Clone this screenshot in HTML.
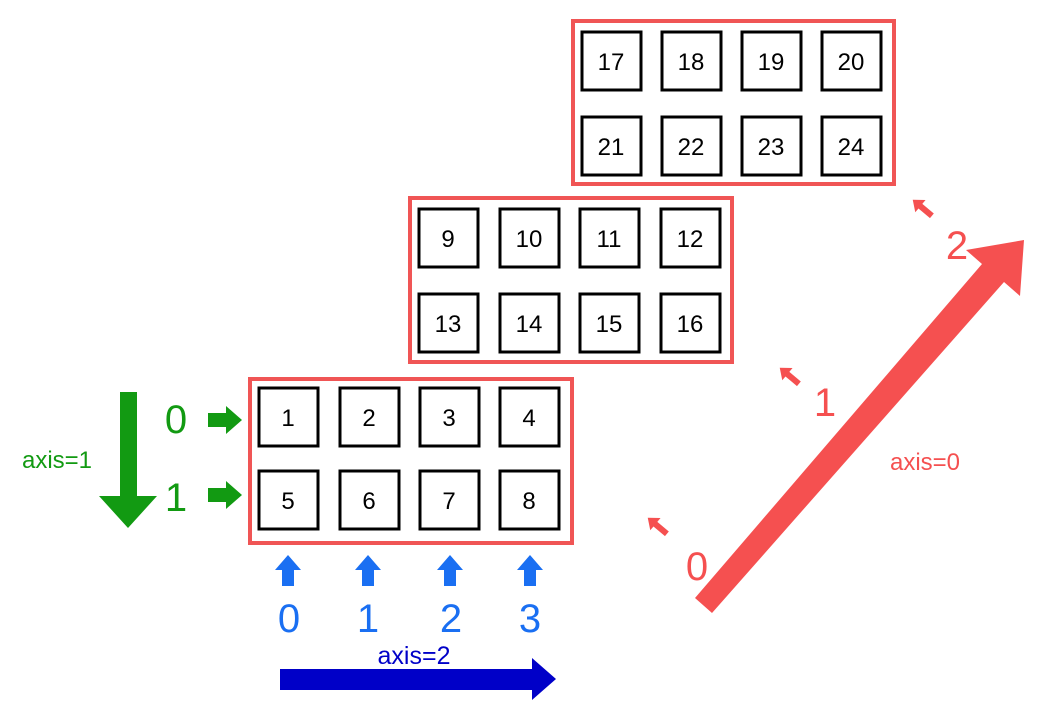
<!DOCTYPE html>
<html><head><meta charset="utf-8"><style>
body{margin:0;background:#fff;}
svg text{font-family:"Liberation Sans",sans-serif;}
</style></head><body>
<svg width="1039" height="705" viewBox="0 0 1039 705" xmlns="http://www.w3.org/2000/svg">
<g fill="none" stroke="#f05555" stroke-width="4">
<rect x="250" y="379" width="322" height="164"/>
<rect x="410" y="198" width="322" height="164"/>
<rect x="573" y="21" width="321" height="163"/>
</g>
<g fill="#fff" stroke="#000" stroke-width="3">
<rect x="259" y="388" width="59" height="58"/><rect x="340" y="388" width="59" height="58"/><rect x="420" y="388" width="59" height="58"/><rect x="500" y="388" width="59" height="58"/>
<rect x="259" y="471" width="59" height="58"/><rect x="340" y="471" width="59" height="58"/><rect x="420" y="471" width="59" height="58"/><rect x="500" y="471" width="59" height="58"/>
<rect x="419" y="209" width="59" height="58"/><rect x="500" y="209" width="59" height="58"/><rect x="580" y="209" width="59" height="58"/><rect x="661" y="209" width="59" height="58"/>
<rect x="419" y="294" width="59" height="58"/><rect x="500" y="294" width="59" height="58"/><rect x="580" y="294" width="59" height="58"/><rect x="661" y="294" width="59" height="58"/>
<rect x="582" y="32" width="59" height="58"/><rect x="662" y="32" width="59" height="58"/><rect x="742" y="32" width="59" height="58"/><rect x="822" y="32" width="59" height="58"/>
<rect x="582" y="117" width="59" height="58"/><rect x="662" y="117" width="59" height="58"/><rect x="742" y="117" width="59" height="58"/><rect x="822" y="117" width="59" height="58"/>
</g>
<g font-size="24" text-anchor="middle" fill="#000">
<text x="288" y="426">1</text><text x="369" y="426">2</text><text x="449" y="426">3</text><text x="529" y="426">4</text>
<text x="288" y="509">5</text><text x="369" y="509">6</text><text x="449" y="509">7</text><text x="529" y="509">8</text>
<text x="448" y="247">9</text><text x="529" y="247">10</text><text x="609" y="247">11</text><text x="690" y="247">12</text>
<text x="448" y="332">13</text><text x="529" y="332">14</text><text x="609" y="332">15</text><text x="690" y="332">16</text>
<text x="611" y="70">17</text><text x="691" y="70">18</text><text x="771" y="70">19</text><text x="851" y="70">20</text>
<text x="611" y="155">21</text><text x="691" y="155">22</text><text x="771" y="155">23</text><text x="851" y="155">24</text>
</g>
<!-- green -->
<g fill="#129a12">
<polygon points="120,392 137,392 137,496 157,496 128,528 99,496 120,496"/>
<polygon points="208,413 226,413 226,406 242,420 226,434 226,427 208,427"/>
<polygon points="208,488 226,488 226,481 242,495 226,509 226,502 208,502"/>
<text x="176" y="433" font-size="40" text-anchor="middle">0</text>
<text x="176" y="511" font-size="40" text-anchor="middle">1</text>
<text x="57" y="468" font-size="24" text-anchor="middle">axis=1</text>
</g>
<!-- blue -->
<g fill="#1a6ff2">
<polygon points="282,586 282,570 275,570 288,555 301,570 294,570 294,586"/>
<polygon points="362,586 362,570 355,570 368,555 381,570 374,570 374,586"/>
<polygon points="444,586 444,570 437,570 450,555 463,570 456,570 456,586"/>
<polygon points="524,586 524,570 517,570 530,555 543,570 536,570 536,586"/>
<text x="289" y="632" font-size="40" text-anchor="middle">0</text>
<text x="368" y="632" font-size="40" text-anchor="middle">1</text>
<text x="451" y="632" font-size="40" text-anchor="middle">2</text>
<text x="530" y="632" font-size="40" text-anchor="middle">3</text>
</g>
<polygon fill="#0000c8" points="280,669 532,669 532,658 556,679 532,700 532,690 280,690"/>
<text x="414" y="664" font-size="25" text-anchor="middle" fill="#0000c8">axis=2</text>
<!-- red -->
<g fill="#f55050">
<polygon points="695,598 712,613 1004,282 1020,296 1024,240 966,250 982,264"/>
<g transform="translate(660,528) rotate(-140)"><polygon points="-9,-3 6,-3 6,-8 16,0 6,8 6,3 -9,3"/></g>
<g transform="translate(792,378) rotate(-140)"><polygon points="-9,-3 6,-3 6,-8 16,0 6,8 6,3 -9,3"/></g>
<g transform="translate(925,210) rotate(-140)"><polygon points="-9,-3 6,-3 6,-8 16,0 6,8 6,3 -9,3"/></g>
<text x="697" y="580" font-size="40" text-anchor="middle">0</text>
<text x="825" y="416" font-size="40" text-anchor="middle">1</text>
<text x="957" y="259" font-size="40" text-anchor="middle">2</text>
<text x="925" y="470" font-size="24" text-anchor="middle">axis=0</text>
</g>
</svg>
</body></html>
